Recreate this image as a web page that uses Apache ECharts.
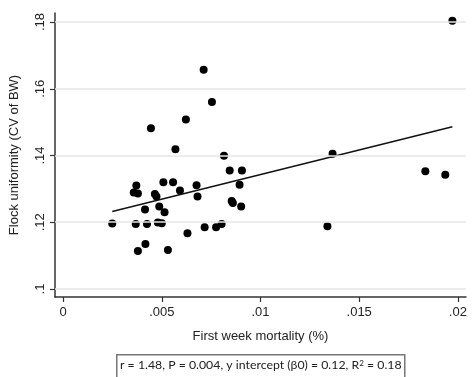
<!DOCTYPE html>
<html>
<head>
<meta charset="utf-8">
<script src="https://cdn.jsdelivr.net/npm/echarts@6/dist/echarts.min.js"></script>
<style>
    html, body { margin: 0; padding: 0; background: #fff; }
    #chart { width: 474px; height: 377px; }
</style>
</head>
<body>
<div id="chart"></div>
<script>
    // first week mortality (%) per flock
    var mortality = [
        0.00249, 0.00371, 0.00358, 0.00379, 0.00368, 0.00379, 0.00415, 0.00417, 0.00425, 0.00445,
        0.00465, 0.00473, 0.00480, 0.00500, 0.00487, 0.00508, 0.00514, 0.00531, 0.00557, 0.00569,
        0.00592, 0.00622, 0.00630, 0.00676, 0.00681, 0.00712, 0.00717, 0.00754, 0.00775, 0.00803,
        0.00815, 0.00844, 0.00854, 0.00860, 0.00894, 0.00902, 0.00906, 0.01339, 0.01365, 0.01835,
        0.01936, 0.01972
    ]
    // flock uniformity (CV of BW)
    var uniformity = [
        0.1196, 0.1310, 0.1289, 0.1286, 0.1195, 0.1114, 0.1238, 0.1135, 0.1195, 0.1482,
        0.1285, 0.1277, 0.1199, 0.1197, 0.1247, 0.1320, 0.1230, 0.1117, 0.1320, 0.1419,
        0.1295, 0.1508, 0.1167, 0.1311, 0.1277, 0.1657, 0.1185, 0.1560, 0.1185, 0.1195,
        0.1399, 0.1355, 0.1264, 0.1258, 0.1312, 0.1247, 0.1355, 0.1188, 0.1405, 0.1353,
        0.1342, 0.1804
    ]
    // fitted line end points
    var fitX = [0.00249, 0.01972]
    var fitY = [0.1232, 0.1486]

    var xTicks = [0, 0.005, 0.01, 0.015, 0.02]
    var yTicks = [0.1, 0.12, 0.14, 0.16, 0.18]
    var statsText = 'r = 1.48, P = 0.004, y intercept (β0) = 0.12, R{sup|2} = 0.18'

    var dropZero = function (v) {
        return v === 0 ? '0' : String(v).replace(/^0/, '')
    }

    var points = mortality.map(function (x, i) { return [x, uniformity[i]] })
    var fitLine = fitX.map(function (x, i) { return [x, fitY[i]] })

    var axisColor = '#333'
    var font = 'Liberation Sans'
    var myChart = echarts.init(document.getElementById('chart'))
    myChart.setOption({
        animation: false,
        backgroundColor: '#fff',
        textStyle: { fontFamily: font },
        grid: {
            left: 45,
            right: 8,
            top: 13,
            bottom: 80,
            containLabel: false
        },
        xAxis: {
            type: 'value',
            min: -0.00041,
            max: 0.02041,
            name: 'First week mortality (%)',
            nameLocation: 'middle',
            nameGap: 33,
            nameTextStyle: { color: '#222', fontSize: 13, fontFamily: font },
            axisLine: { onZero: false, lineStyle: { color: axisColor, width: 1.5 } },
            axisTick: { customValues: xTicks, length: 5, lineStyle: { color: axisColor, width: 1.2 } },
            axisLabel: {
                customValues: xTicks,
                formatter: dropZero,
                color: '#222',
                fontSize: 13,
                fontFamily: font,
                margin: 9
            },
            splitLine: { show: false }
        },
        yAxis: {
            type: 'value',
            min: 0.0976,
            max: 0.1827,
            name: 'Flock uniformity (CV of BW)',
            nameLocation: 'middle',
            nameRotate: 90,
            nameGap: 34,
            nameTextStyle: { color: '#222', fontSize: 13, fontFamily: font },
            axisLine: { onZero: false, lineStyle: { color: axisColor, width: 1.5 } },
            axisTick: { customValues: yTicks, length: 5, lineStyle: { color: axisColor, width: 1.2 } },
            axisLabel: {
                customValues: yTicks,
                formatter: dropZero,
                rotate: 90,
                color: '#222',
                fontSize: 13,
                fontFamily: font,
                margin: 8
            },
            splitLine: { show: false }
        },
        series: [
            {
                type: 'line',
                data: [],
                silent: true,
                markLine: {
                    silent: true,
                    symbol: ['none', 'none'],
                    label: { show: false },
                    lineStyle: { color: '#e6e6e6', width: 1.5, type: 'solid' },
                    data: yTicks.map(function (v) { return { yAxis: v } })
                }
            },
            {
                type: 'line',
                data: fitLine,
                symbol: 'none',
                lineStyle: { color: '#111', width: 1.5 },
                z: 3
            },
            {
                type: 'scatter',
                data: points,
                symbol: 'circle',
                symbolSize: 8,
                itemStyle: { color: '#000', opacity: 1 },
                z: 4
            }
        ],
        graphic: [
            {
                type: 'rect',
                left: 116,
                top: 354,
                shape: { width: 288, height: 30 },
                style: { fill: '#fff', stroke: '#777', lineWidth: 1.5 }
            },
            {
                type: 'text',
                left: 120,
                top: 359,
                style: {
                    text: statsText,
                    fill: '#222',
                    fontFamily: 'Lato',
                    fontSize: 12.3,
                    rich: {
                        sup: { fontSize: 8, fontFamily: 'Lato', verticalAlign: 'top', padding: [0, 0, 5, 0], fill: '#222' }
                    }
                }
            }
        ]
    })
</script>
</body>
</html>
